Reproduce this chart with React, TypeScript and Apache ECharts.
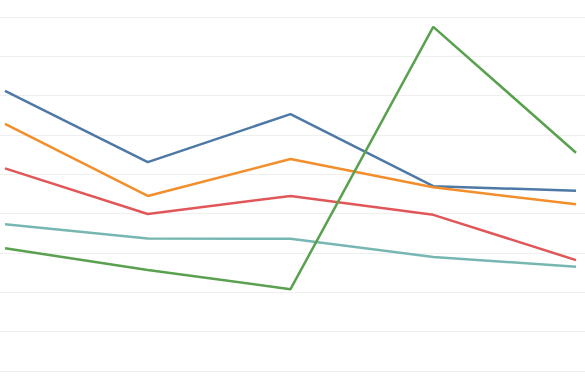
import React, { useEffect, useRef } from "react";
import * as echarts from "echarts";

const categories = ["1", "2", "3", "4", "5"];
const blueValues = [71.2, 53.1, 65.3, 47.0, 45.8];
const orangeValues = [62.8, 44.5, 53.9, 46.7, 42.4];
const redValues = [51.5, 39.9, 44.5, 39.7, 28.2];
const tealValues = [37.3, 33.7, 33.6, 29.0, 26.5];
const greenValues = [31.2, 25.7, 20.8, 87.5, 55.5];

const seriesList = [
  { name: "Blue", data: blueValues, color: "#4e79a7" },
  { name: "Orange", data: orangeValues, color: "#f28e2b" },
  { name: "Red", data: redValues, color: "#e15759" },
  { name: "Teal", data: tealValues, color: "#76b7b2" },
  { name: "Green", data: greenValues, color: "#59a14f" },
];

export default function App() {
  const ref = useRef<HTMLDivElement>(null);
  useEffect(() => {
    if (!ref.current) return;
    const chart = echarts.init(ref.current, null, { renderer: "svg" });
    const lastIndex = categories.length - 1;
    chart.setOption({
      animation: false,
      backgroundColor: "#ffffff",
      grid: { left: 0, right: 0, top: 17, bottom: 19, containLabel: false },
      xAxis: {
        type: "value",
        min: -0.035,
        max: lastIndex + 0.063,
        axisLine: { show: false },
        axisTick: { show: false },
        axisLabel: { show: false },
        splitLine: { show: false },
      },
      yAxis: {
        type: "value",
        min: 0,
        max: 90,
        interval: 10,
        axisLine: { show: false },
        axisTick: { show: false },
        axisLabel: { show: false },
        splitLine: { show: true, lineStyle: { color: "#efefef", width: 1 } },
      },
      series: seriesList.map((s) => ({
        name: s.name,
        type: "line",
        data: s.data.map((v, i) => [i, v]),
        symbol: "none",
        color: s.color,
        lineStyle: { color: s.color, width: 2.5 },
      })),
    });
    return () => chart.dispose();
  }, []);
  return <div ref={ref} style={{ width: 585, height: 390, position: "absolute", left: 0, top: 0 }} />;
}
